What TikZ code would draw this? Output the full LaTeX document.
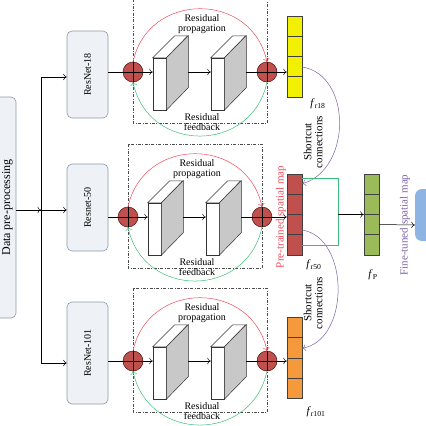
\documentclass[tikz,border=0pt]{standalone}
\usepackage{fontspec}
\setmainfont{Liberation Serif}
\usepackage{graphicx}
\usetikzlibrary{arrows.meta}

\definecolor{boxfill}{HTML}{EEF2F6}
\definecolor{boxdraw}{HTML}{8A99AA}
\definecolor{sumfill}{HTML}{C0504D}
\definecolor{sumdraw}{HTML}{4A1414}
\definecolor{propred}{HTML}{EB4D5C}
\definecolor{feedgreen}{HTML}{3DBE7A}
\definecolor{shortpurple}{HTML}{7E62A8}
\definecolor{colyellow}{HTML}{F0F000}
\definecolor{colred}{HTML}{C0504D}
\definecolor{colorange}{HTML}{F5993D}
\definecolor{colgreen}{HTML}{9BBB59}
\definecolor{colblue}{HTML}{8EB4E3}
\definecolor{slabgray}{HTML}{C8C8C8}

% front face of a block plus its top and side faces
\newcommand{\slab}[2]{%
  \node[slabfront] (#1) at (#2) {};
  \draw[slabline,fill=slabgray] (#1.north east) -- ++(22,-22) -- ++(0,52) -- (#1.south east) -- cycle;
  \draw[slabline,fill=white] (#1.north west) -- ++(22,-22) -- ++(13,0) -- (#1.north east) -- cycle;
  \coordinate (#1-back) at ([xshift=22pt]#1.east);
}

\begin{document}
\begin{tikzpicture}[x=1pt,y=-1pt,>={To[length=3.5pt,width=6.5pt]},line width=0.5pt,
  netbox/.style={draw=boxdraw,fill=boxfill,rounded corners=5pt,line width=0.6pt,inner sep=0pt,minimum width=41pt,font=\fontsize{10}{10}\selectfont},
  sumnode/.style={circle,draw=sumdraw,fill=sumfill,minimum size=20pt,inner sep=0pt,
    path picture={\draw[black,line width=0.7pt] (path picture bounding box.north) -- (path picture bounding box.south)
      (path picture bounding box.west) -- (path picture bounding box.east);}},
  slabfront/.style={draw=black!80,fill=white,minimum width=13pt,minimum height=52pt,inner sep=0pt},
  slabline/.style={draw=black!80},
  resbox/.style={draw=black!70,dash pattern=on 3pt off 1.5pt on 0.8pt off 1.5pt},
  propline/.style={draw=propred},
  feedline/.style={draw=feedgreen},
  shortline/.style={draw=shortpurple},
  restext/.style={align=center,font=\fontsize{10}{10.5}\selectfont,inner sep=0pt},
  fcol/.style={draw=black!75,minimum width=15pt,minimum height=81pt,inner sep=0pt},
  flabel/.style={font=\fontsize{11}{11}\selectfont,inner sep=0pt},
  sidetext/.style={rotate=90,align=center,font=\fontsize{11}{11}\selectfont,inner sep=0pt}]
\useasboundingbox (0,0) rectangle (426,426);

% input and backbones
\node[netbox,minimum width=28pt,minimum height=221pt] (data) at (2,207.5) {\hspace*{11pt}\rotatebox{90}{\fontsize{12}{12}\selectfont Data pre-processing}};
\node[netbox,minimum height=87pt] (r18) at (87.5,74.5) {\rotatebox{90}{ResNet-18}};
\node[netbox,minimum height=87pt] (r50) at (87.5,207.5) {\rotatebox{90}{Resnet-50}};
\node[netbox,minimum height=102pt] (r101) at (87.5,353) {\rotatebox{90}{ResNet-101}};
\coordinate (t18) at (41,77);
\coordinate (t50) at (41,210);
\coordinate (t101) at (41,363);
\draw (t18) -- (t101);
\draw[->] (data.east |- t50) -- (t50);
\draw[->] (t18) -- (r18.west |- t18);
\draw[->] (t50) -- (r50.west |- t50);
\draw[->] (t101) -- (r101.west |- t101);

% feature maps
\node[fcol,fill=colyellow] (fr18) at (294.5,56.5) {};
\node[fcol,fill=colred] (fr50) at (294.5,214.5) {};
\node[fcol,fill=colorange] (fr101) at (294.5,358) {};
\node[fcol,fill=colgreen] (fp) at (371.5,214.5) {};
\foreach \c in {fr18,fr50,fr101,fp}
  \foreach \k in {1,2,3}
    \draw[black!75] ([yshift=-\k*20.25pt]\c.north west) -- ([yshift=-\k*20.25pt]\c.north east);
\node[flabel] at (318,104) {\textit{f}\textsubscript{r18}};
\node[flabel] at (314,265) {\textit{f}\textsubscript{r50}};
\node[flabel] at (316,412) {\textit{f}\textsubscript{r101}};
\node[flabel] at (373,275) {\textit{f}\textsubscript{P}};

% residual blocks
\foreach \r/\xl/\y in {18/133/72,50/128/217,101/133/361}{
  \draw[resbox] ({\xl},{\y-73}) rectangle ({\xl+134},{\y+51});
  \draw[propline,->] ({\xl},{\y-10}) .. controls +(15,-71) and +(-15,-71) .. ({\xl+134},{\y-10});
  \draw[feedline,->] ({\xl+134},{\y+10}) .. controls +(-15,72) and +(15,72) .. ({\xl},{\y+10});
  \node[sumnode] (in\r) at (\xl,\y) {};
  \node[sumnode] (out\r) at ({\xl+134},\y) {};
  \slab{sa\r}{{\xl+26.5},{\y+12}}
  \slab{sb\r}{{\xl+84.5},{\y+12}}
  \draw (r\r.east |- in\r) -- (in\r.west);
  \draw[->] (in\r.east) -- (sa\r.west |- in\r);
  \draw[->] (sa\r-back |- in\r) -- (sb\r.west |- in\r);
  \draw (sb\r-back |- in\r) -- (out\r.west);
  \draw[->] (out\r.east) -- (fr\r.west |- out\r);
  \node[restext] at ({\xl+69},{\y-48}) {Residual\\propagation};
  \node[restext] at ({\xl+69},{\y+50}) {Residual\\feedback};
}

% shortcut connections
\draw[shortline,->] ([yshift=-10.5pt]fr18.east) .. controls (352,75) and (352,169) .. ([yshift=-10pt]fr50.north east);
\draw[shortline,->] ([yshift=-15.5pt]fr50.east) .. controls (350,238) and (350,340) .. ([yshift=-31pt]fr101.north east);
\node[sidetext] at (313,142) {Shortcut\\connections};
\node[sidetext] at (313,303) {Shortcut\\connections};

% fine-tuning
\coordinate (bt) at (338,178);
\coordinate (bb) at (338,245);
\draw[feedgreen] (fr50.east |- bt) -- (bt) -- (bb) -- (fr50.east |- bb);
\draw[->] (bt |- fp) -- (fp.west);
\node[fill=colblue,rounded corners=7pt,minimum width=30pt,minimum height=52pt] (ft) at (430,215) {};
\draw[->] ([yshift=-10pt]fp.east) -- ([yshift=-10pt]ft.west);
\node[sidetext,text=propred] at (281,217) {Pre-trained spatial map};
\node[sidetext,text=shortpurple] at (405,225) {Fine-tuned spatial map};
\end{tikzpicture}
\end{document}
